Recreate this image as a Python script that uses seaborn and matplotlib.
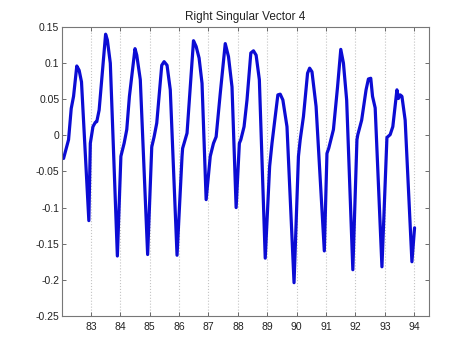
"""
Right Singular Vector 4 - recreation of a MATLAB-style line plot with seaborn.
"""

import matplotlib
matplotlib.use("Agg")
import matplotlib.pyplot as plt
import numpy as np
import pandas as pd
import seaborn as sns

# values (year, component value)
years = [
    82.07, 82.24, 82.33, 82.41, 82.52, 82.60, 82.68, 82.93,
    82.98, 83.07, 83.15, 83.20, 83.28, 83.50, 83.56, 83.66, 83.90,
    84.02, 84.13, 84.22, 84.31, 84.50, 84.56, 84.68, 84.93,
    85.07, 85.15, 85.24, 85.41, 85.49, 85.59, 85.70, 85.93,
    86.10, 86.12, 86.27, 86.49, 86.58, 86.68, 86.78, 86.92,
    87.06, 87.17, 87.26, 87.40, 87.57, 87.68, 87.80, 87.94,
    88.05, 88.10, 88.21, 88.31, 88.44, 88.53, 88.62, 88.73, 88.93,
    89.08, 89.16, 89.27, 89.36, 89.44, 89.53, 89.67, 89.91,
    90.06, 90.12, 90.23, 90.37, 90.44, 90.52, 90.66, 90.94,
    91.03, 91.09, 91.25, 91.39, 91.50, 91.59, 91.70, 91.91,
    92.05, 92.08, 92.21, 92.36, 92.44, 92.52, 92.58, 92.67, 92.90,
    93.07, 93.18, 93.27, 93.41, 93.46, 93.52, 93.58, 93.69, 93.92, 94.01,
]
values = [
    -0.032, -0.006, 0.037, 0.054, 0.096, 0.090, 0.074, -0.118,
    -0.011, 0.012, 0.018, 0.019, 0.035, 0.140, 0.132, 0.100, -0.167,
    -0.029, -0.011, 0.008, 0.054, 0.120, 0.111, 0.077, -0.165,
    -0.016, -0.002, 0.017, 0.097, 0.102, 0.097, 0.063, -0.166,
    -0.029, -0.018, 0.003, 0.131, 0.123, 0.107, 0.072, -0.089,
    -0.029, -0.011, -0.002, 0.058, 0.127, 0.109, 0.067, -0.100,
    -0.011, -0.006, 0.012, 0.049, 0.114, 0.117, 0.111, 0.077, -0.170,
    -0.043, -0.011, 0.026, 0.056, 0.057, 0.049, 0.012, -0.204,
    -0.029, -0.006, 0.026, 0.086, 0.093, 0.088, 0.040, -0.160,
    -0.025, -0.018, 0.008, 0.067, 0.119, 0.100, 0.049, -0.186,
    -0.006, 0.001, 0.021, 0.063, 0.078, 0.079, 0.054, 0.038, -0.182,
    -0.003, 0.001, 0.012, 0.063, 0.051, 0.056, 0.054, 0.021, -0.175, -0.128,
]
x_ticks = [83, 84, 85, 86, 87, 88, 89, 90, 91, 92, 93, 94]
y_ticks = [-0.25, -0.2, -0.15, -0.1, -0.05, 0, 0.05, 0.1, 0.15]
y_tick_labels = ["-0.25", "-0.2", "-0.15", "-0.1", "-0.05", "0", "0.05", "0.1", "0.15"]

df = pd.DataFrame({"year": years, "value": values})

sns.set_style("white")
plt.rcParams["font.family"] = ["Liberation Sans", "DejaVu Sans"]

fig = plt.figure(figsize=(4.74, 3.55), dpi=100)
ax = fig.add_axes([0.131, 0.110, 0.774, 0.814])

sns.lineplot(data=df, x="year", y="value", sort=False, color="#0c0cd4",
             linewidth=2.3, ax=ax, solid_joinstyle="round")

ax.set_xlim(82.02, 94.5)
ax.set_ylim(-0.25, 0.15)
ax.set_xticks(x_ticks)
ax.set_xticklabels([str(t) for t in x_ticks])
ax.set_yticks(y_ticks)
ax.set_yticklabels(y_tick_labels)

# dotted vertical grid only, matlab style
ax.xaxis.grid(True, linestyle=":", color="#c4c4c4", linewidth=0.8)
ax.yaxis.grid(False)
ax.set_axisbelow(True)

ax.tick_params(direction="in", length=3, width=0.6, color="#555555",
               labelsize=7.5, labelcolor="#222222", pad=2,
               top=True, right=True, left=True, bottom=True)
ax.tick_params(axis="x", pad=4)
for side in ax.spines.values():
    side.set_visible(True)
    side.set_color("#777777")
    side.set_linewidth(0.8)

ax.set_xlabel("")
ax.set_ylabel("")
ax.set_title("Right Singular Vector 4", fontsize=8.5, color="#222222", pad=5)

fig.savefig("out.png", dpi=100)
plt.close(fig)
